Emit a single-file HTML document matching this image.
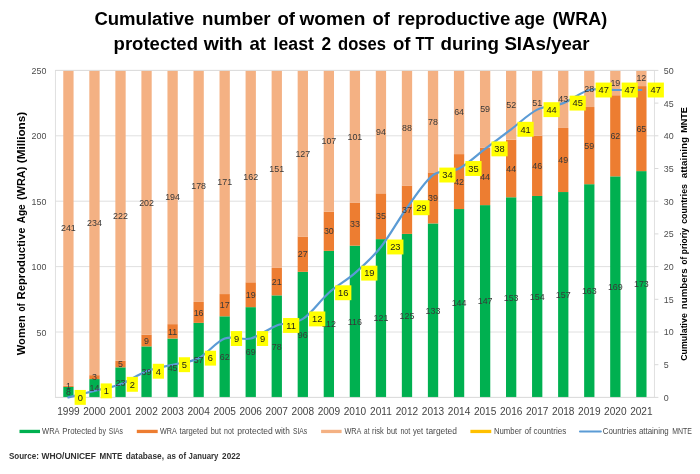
<!DOCTYPE html>
<html><head><meta charset="utf-8"><title>Chart</title><style>html,body{margin:0;padding:0;background:#fff}svg{display:block}</style></head><body>
<svg width="700" height="474" viewBox="0 0 700 474" font-family='"Liberation Sans", sans-serif'>
<rect width="700" height="474" fill="#fff"/>
<line x1="55.4" x2="654.4" y1="397.40" y2="397.40" stroke="#dcdcdc" stroke-width="0.9"/>
<line x1="55.4" x2="654.4" y1="332.00" y2="332.00" stroke="#dcdcdc" stroke-width="0.9"/>
<line x1="55.4" x2="654.4" y1="266.60" y2="266.60" stroke="#dcdcdc" stroke-width="0.9"/>
<line x1="55.4" x2="654.4" y1="201.20" y2="201.20" stroke="#dcdcdc" stroke-width="0.9"/>
<line x1="55.4" x2="654.4" y1="135.80" y2="135.80" stroke="#dcdcdc" stroke-width="0.9"/>
<line x1="55.4" x2="654.4" y1="70.40" y2="70.40" stroke="#dcdcdc" stroke-width="0.9"/>
<rect x="63.27" y="386.94" width="10.3" height="10.46" fill="#00b050"/>
<rect x="63.27" y="385.63" width="10.3" height="1.31" fill="#ed7d31"/>
<rect x="63.27" y="70.40" width="10.3" height="315.23" fill="#f4b183"/>
<rect x="89.32" y="379.09" width="10.3" height="18.31" fill="#00b050"/>
<rect x="89.32" y="375.16" width="10.3" height="3.92" fill="#ed7d31"/>
<rect x="89.32" y="70.40" width="10.3" height="304.76" fill="#f4b183"/>
<rect x="115.36" y="367.32" width="10.3" height="30.08" fill="#00b050"/>
<rect x="115.36" y="360.78" width="10.3" height="6.54" fill="#ed7d31"/>
<rect x="115.36" y="70.40" width="10.3" height="290.38" fill="#f4b183"/>
<rect x="141.40" y="346.39" width="10.3" height="51.01" fill="#00b050"/>
<rect x="141.40" y="334.62" width="10.3" height="11.77" fill="#ed7d31"/>
<rect x="141.40" y="70.40" width="10.3" height="264.22" fill="#f4b183"/>
<rect x="167.45" y="338.54" width="10.3" height="58.86" fill="#00b050"/>
<rect x="167.45" y="324.15" width="10.3" height="14.39" fill="#ed7d31"/>
<rect x="167.45" y="70.40" width="10.3" height="253.75" fill="#f4b183"/>
<rect x="193.49" y="322.84" width="10.3" height="74.56" fill="#00b050"/>
<rect x="193.49" y="301.92" width="10.3" height="20.93" fill="#ed7d31"/>
<rect x="193.49" y="70.40" width="10.3" height="231.52" fill="#f4b183"/>
<rect x="219.53" y="316.30" width="10.3" height="81.10" fill="#00b050"/>
<rect x="219.53" y="294.07" width="10.3" height="22.24" fill="#ed7d31"/>
<rect x="219.53" y="70.40" width="10.3" height="223.67" fill="#f4b183"/>
<rect x="245.58" y="307.15" width="10.3" height="90.25" fill="#00b050"/>
<rect x="245.58" y="282.30" width="10.3" height="24.85" fill="#ed7d31"/>
<rect x="245.58" y="70.40" width="10.3" height="211.90" fill="#f4b183"/>
<rect x="271.62" y="295.38" width="10.3" height="102.02" fill="#00b050"/>
<rect x="271.62" y="267.91" width="10.3" height="27.47" fill="#ed7d31"/>
<rect x="271.62" y="70.40" width="10.3" height="197.51" fill="#f4b183"/>
<rect x="297.66" y="271.83" width="10.3" height="125.57" fill="#00b050"/>
<rect x="297.66" y="236.52" width="10.3" height="35.32" fill="#ed7d31"/>
<rect x="297.66" y="70.40" width="10.3" height="166.12" fill="#f4b183"/>
<rect x="323.71" y="250.90" width="10.3" height="146.50" fill="#00b050"/>
<rect x="323.71" y="211.66" width="10.3" height="39.24" fill="#ed7d31"/>
<rect x="323.71" y="70.40" width="10.3" height="141.26" fill="#f4b183"/>
<rect x="349.75" y="245.67" width="10.3" height="151.73" fill="#00b050"/>
<rect x="349.75" y="202.51" width="10.3" height="43.16" fill="#ed7d31"/>
<rect x="349.75" y="70.40" width="10.3" height="132.11" fill="#f4b183"/>
<rect x="375.79" y="239.13" width="10.3" height="158.27" fill="#00b050"/>
<rect x="375.79" y="193.35" width="10.3" height="45.78" fill="#ed7d31"/>
<rect x="375.79" y="70.40" width="10.3" height="122.95" fill="#f4b183"/>
<rect x="401.84" y="233.90" width="10.3" height="163.50" fill="#00b050"/>
<rect x="401.84" y="185.50" width="10.3" height="48.40" fill="#ed7d31"/>
<rect x="401.84" y="70.40" width="10.3" height="115.10" fill="#f4b183"/>
<rect x="427.88" y="223.44" width="10.3" height="173.96" fill="#00b050"/>
<rect x="427.88" y="172.42" width="10.3" height="51.01" fill="#ed7d31"/>
<rect x="427.88" y="70.40" width="10.3" height="102.02" fill="#f4b183"/>
<rect x="453.92" y="209.05" width="10.3" height="188.35" fill="#00b050"/>
<rect x="453.92" y="154.11" width="10.3" height="54.94" fill="#ed7d31"/>
<rect x="453.92" y="70.40" width="10.3" height="83.71" fill="#f4b183"/>
<rect x="479.97" y="205.12" width="10.3" height="192.28" fill="#00b050"/>
<rect x="479.97" y="147.57" width="10.3" height="57.55" fill="#ed7d31"/>
<rect x="479.97" y="70.40" width="10.3" height="77.17" fill="#f4b183"/>
<rect x="506.01" y="197.28" width="10.3" height="200.12" fill="#00b050"/>
<rect x="506.01" y="139.72" width="10.3" height="57.55" fill="#ed7d31"/>
<rect x="506.01" y="70.40" width="10.3" height="69.32" fill="#f4b183"/>
<rect x="532.05" y="195.97" width="10.3" height="201.43" fill="#00b050"/>
<rect x="532.05" y="135.80" width="10.3" height="60.17" fill="#ed7d31"/>
<rect x="532.05" y="70.40" width="10.3" height="65.40" fill="#f4b183"/>
<rect x="558.10" y="192.04" width="10.3" height="205.36" fill="#00b050"/>
<rect x="558.10" y="127.95" width="10.3" height="64.09" fill="#ed7d31"/>
<rect x="558.10" y="70.40" width="10.3" height="57.55" fill="#f4b183"/>
<rect x="584.14" y="184.20" width="10.3" height="213.20" fill="#00b050"/>
<rect x="584.14" y="107.02" width="10.3" height="77.17" fill="#ed7d31"/>
<rect x="584.14" y="70.40" width="10.3" height="36.62" fill="#f4b183"/>
<rect x="610.18" y="176.35" width="10.3" height="221.05" fill="#00b050"/>
<rect x="610.18" y="95.25" width="10.3" height="81.10" fill="#ed7d31"/>
<rect x="610.18" y="70.40" width="10.3" height="24.85" fill="#f4b183"/>
<rect x="636.23" y="171.12" width="10.3" height="226.28" fill="#00b050"/>
<rect x="636.23" y="86.10" width="10.3" height="85.02" fill="#ed7d31"/>
<rect x="636.23" y="70.40" width="10.3" height="15.70" fill="#f4b183"/>
<rect x="55.4" y="70.4" width="599.0" height="327.0" fill="none" stroke="#dcdcdc" stroke-width="0.9"/>
<line x1="654.4" x2="658.4" y1="397.40" y2="397.40" stroke="#d9d9d9" stroke-width="1"/>
<line x1="654.4" x2="658.4" y1="364.70" y2="364.70" stroke="#d9d9d9" stroke-width="1"/>
<line x1="654.4" x2="658.4" y1="332.00" y2="332.00" stroke="#d9d9d9" stroke-width="1"/>
<line x1="654.4" x2="658.4" y1="299.30" y2="299.30" stroke="#d9d9d9" stroke-width="1"/>
<line x1="654.4" x2="658.4" y1="266.60" y2="266.60" stroke="#d9d9d9" stroke-width="1"/>
<line x1="654.4" x2="658.4" y1="233.90" y2="233.90" stroke="#d9d9d9" stroke-width="1"/>
<line x1="654.4" x2="658.4" y1="201.20" y2="201.20" stroke="#d9d9d9" stroke-width="1"/>
<line x1="654.4" x2="658.4" y1="168.50" y2="168.50" stroke="#d9d9d9" stroke-width="1"/>
<line x1="654.4" x2="658.4" y1="135.80" y2="135.80" stroke="#d9d9d9" stroke-width="1"/>
<line x1="654.4" x2="658.4" y1="103.10" y2="103.10" stroke="#d9d9d9" stroke-width="1"/>
<line x1="654.4" x2="658.4" y1="70.40" y2="70.40" stroke="#d9d9d9" stroke-width="1"/>
<path d="M68.42,397.40 C72.76,396.31 85.78,393.04 94.47,390.86 C103.15,388.68 111.83,387.59 120.51,384.32 C129.19,381.05 137.87,374.51 146.55,371.24 C155.23,367.97 163.91,366.88 172.60,364.70 C181.28,362.52 189.96,362.52 198.64,358.16 C207.32,353.80 216.00,341.81 224.68,338.54 C233.36,335.27 242.04,340.72 250.73,338.54 C259.41,336.36 268.09,328.73 276.77,325.46 C285.45,322.19 294.13,324.37 302.81,318.92 C311.49,313.47 320.18,300.39 328.86,292.76 C337.54,285.13 346.22,280.77 354.90,273.14 C363.58,265.51 372.26,257.88 380.94,246.98 C389.62,236.08 398.31,219.73 406.99,207.74 C415.67,195.75 424.35,181.58 433.03,175.04 C441.71,168.50 450.39,172.86 459.07,168.50 C467.76,164.14 476.44,155.42 485.12,148.88 C493.80,142.34 502.48,135.80 511.16,129.26 C519.84,122.72 528.52,114.00 537.20,109.64 C545.89,105.28 554.57,106.37 563.25,103.10 C571.93,99.83 580.61,92.20 589.29,90.02 C597.97,87.84 606.65,90.02 615.33,90.02 C624.02,90.02 637.04,90.02 641.38,90.02" fill="none" stroke="#5b9bd5" stroke-width="2.2" stroke-linecap="round" stroke-linejoin="round"/>
<text x="68.42" y="395.35" font-size="8.9" text-anchor="middle" fill="#383838">8</text>
<text x="68.42" y="389.47" font-size="8.9" text-anchor="middle" fill="#383838">1</text>
<text x="68.42" y="231.20" font-size="8.9" text-anchor="middle" fill="#383838">241</text>
<text x="94.47" y="391.43" font-size="8.9" text-anchor="middle" fill="#383838">14</text>
<text x="94.47" y="380.31" font-size="8.9" text-anchor="middle" fill="#383838">3</text>
<text x="94.47" y="225.97" font-size="8.9" text-anchor="middle" fill="#383838">234</text>
<text x="120.51" y="385.54" font-size="8.9" text-anchor="middle" fill="#383838">23</text>
<text x="120.51" y="367.23" font-size="8.9" text-anchor="middle" fill="#383838">5</text>
<text x="120.51" y="218.77" font-size="8.9" text-anchor="middle" fill="#383838">222</text>
<text x="146.55" y="375.08" font-size="8.9" text-anchor="middle" fill="#383838">39</text>
<text x="146.55" y="343.69" font-size="8.9" text-anchor="middle" fill="#383838">9</text>
<text x="146.55" y="205.69" font-size="8.9" text-anchor="middle" fill="#383838">202</text>
<text x="172.60" y="371.16" font-size="8.9" text-anchor="middle" fill="#383838">45</text>
<text x="172.60" y="334.53" font-size="8.9" text-anchor="middle" fill="#383838">11</text>
<text x="172.60" y="200.46" font-size="8.9" text-anchor="middle" fill="#383838">194</text>
<text x="198.64" y="363.31" font-size="8.9" text-anchor="middle" fill="#383838">57</text>
<text x="198.64" y="315.57" font-size="8.9" text-anchor="middle" fill="#383838">16</text>
<text x="198.64" y="189.34" font-size="8.9" text-anchor="middle" fill="#383838">178</text>
<text x="224.68" y="360.04" font-size="8.9" text-anchor="middle" fill="#383838">62</text>
<text x="224.68" y="308.37" font-size="8.9" text-anchor="middle" fill="#383838">17</text>
<text x="224.68" y="185.42" font-size="8.9" text-anchor="middle" fill="#383838">171</text>
<text x="250.73" y="355.46" font-size="8.9" text-anchor="middle" fill="#383838">69</text>
<text x="250.73" y="297.91" font-size="8.9" text-anchor="middle" fill="#383838">19</text>
<text x="250.73" y="179.53" font-size="8.9" text-anchor="middle" fill="#383838">162</text>
<text x="276.77" y="349.57" font-size="8.9" text-anchor="middle" fill="#383838">78</text>
<text x="276.77" y="284.83" font-size="8.9" text-anchor="middle" fill="#383838">21</text>
<text x="276.77" y="172.34" font-size="8.9" text-anchor="middle" fill="#383838">151</text>
<text x="302.81" y="337.80" font-size="8.9" text-anchor="middle" fill="#383838">96</text>
<text x="302.81" y="257.36" font-size="8.9" text-anchor="middle" fill="#383838">27</text>
<text x="302.81" y="156.64" font-size="8.9" text-anchor="middle" fill="#383838">127</text>
<text x="328.86" y="327.34" font-size="8.9" text-anchor="middle" fill="#383838">112</text>
<text x="328.86" y="234.47" font-size="8.9" text-anchor="middle" fill="#383838">30</text>
<text x="328.86" y="144.22" font-size="8.9" text-anchor="middle" fill="#383838">107</text>
<text x="354.90" y="324.72" font-size="8.9" text-anchor="middle" fill="#383838">116</text>
<text x="354.90" y="227.28" font-size="8.9" text-anchor="middle" fill="#383838">33</text>
<text x="354.90" y="139.64" font-size="8.9" text-anchor="middle" fill="#383838">101</text>
<text x="380.94" y="321.45" font-size="8.9" text-anchor="middle" fill="#383838">121</text>
<text x="380.94" y="219.43" font-size="8.9" text-anchor="middle" fill="#383838">35</text>
<text x="380.94" y="135.06" font-size="8.9" text-anchor="middle" fill="#383838">94</text>
<text x="406.99" y="318.84" font-size="8.9" text-anchor="middle" fill="#383838">125</text>
<text x="406.99" y="212.89" font-size="8.9" text-anchor="middle" fill="#383838">37</text>
<text x="406.99" y="131.14" font-size="8.9" text-anchor="middle" fill="#383838">88</text>
<text x="433.03" y="313.60" font-size="8.9" text-anchor="middle" fill="#383838">133</text>
<text x="433.03" y="201.12" font-size="8.9" text-anchor="middle" fill="#383838">39</text>
<text x="433.03" y="124.60" font-size="8.9" text-anchor="middle" fill="#383838">78</text>
<text x="459.07" y="306.41" font-size="8.9" text-anchor="middle" fill="#383838">144</text>
<text x="459.07" y="184.77" font-size="8.9" text-anchor="middle" fill="#383838">42</text>
<text x="459.07" y="115.44" font-size="8.9" text-anchor="middle" fill="#383838">64</text>
<text x="485.12" y="304.45" font-size="8.9" text-anchor="middle" fill="#383838">147</text>
<text x="485.12" y="179.53" font-size="8.9" text-anchor="middle" fill="#383838">44</text>
<text x="485.12" y="112.17" font-size="8.9" text-anchor="middle" fill="#383838">59</text>
<text x="511.16" y="300.52" font-size="8.9" text-anchor="middle" fill="#383838">153</text>
<text x="511.16" y="171.69" font-size="8.9" text-anchor="middle" fill="#383838">44</text>
<text x="511.16" y="108.25" font-size="8.9" text-anchor="middle" fill="#383838">52</text>
<text x="537.20" y="299.87" font-size="8.9" text-anchor="middle" fill="#383838">154</text>
<text x="537.20" y="169.07" font-size="8.9" text-anchor="middle" fill="#383838">46</text>
<text x="537.20" y="106.29" font-size="8.9" text-anchor="middle" fill="#383838">51</text>
<text x="563.25" y="297.91" font-size="8.9" text-anchor="middle" fill="#383838">157</text>
<text x="563.25" y="163.18" font-size="8.9" text-anchor="middle" fill="#383838">49</text>
<text x="563.25" y="102.36" font-size="8.9" text-anchor="middle" fill="#383838">43</text>
<text x="589.29" y="293.98" font-size="8.9" text-anchor="middle" fill="#383838">163</text>
<text x="589.29" y="148.80" font-size="8.9" text-anchor="middle" fill="#383838">59</text>
<text x="589.29" y="91.90" font-size="8.9" text-anchor="middle" fill="#383838">28</text>
<text x="615.33" y="290.06" font-size="8.9" text-anchor="middle" fill="#383838">169</text>
<text x="615.33" y="138.99" font-size="8.9" text-anchor="middle" fill="#383838">62</text>
<text x="615.33" y="86.01" font-size="8.9" text-anchor="middle" fill="#383838">19</text>
<text x="641.38" y="287.44" font-size="8.9" text-anchor="middle" fill="#383838">173</text>
<text x="641.38" y="131.79" font-size="8.9" text-anchor="middle" fill="#383838">65</text>
<text x="641.38" y="81.43" font-size="8.9" text-anchor="middle" fill="#383838">12</text>
<rect x="74.62" y="389.95" width="11.2" height="14.9" fill="#ffff00"/>
<text x="80.22" y="400.73" font-size="9.3" text-anchor="middle" fill="#1a1a1a">0</text>
<rect x="100.67" y="383.41" width="11.2" height="14.9" fill="#ffff00"/>
<text x="106.27" y="394.19" font-size="9.3" text-anchor="middle" fill="#1a1a1a">1</text>
<rect x="126.71" y="376.87" width="11.2" height="14.9" fill="#ffff00"/>
<text x="132.31" y="387.65" font-size="9.3" text-anchor="middle" fill="#1a1a1a">2</text>
<rect x="152.75" y="363.79" width="11.2" height="14.9" fill="#ffff00"/>
<text x="158.35" y="374.57" font-size="9.3" text-anchor="middle" fill="#1a1a1a">4</text>
<rect x="178.80" y="357.25" width="11.2" height="14.9" fill="#ffff00"/>
<text x="184.40" y="368.03" font-size="9.3" text-anchor="middle" fill="#1a1a1a">5</text>
<rect x="204.84" y="350.71" width="11.2" height="14.9" fill="#ffff00"/>
<text x="210.44" y="361.49" font-size="9.3" text-anchor="middle" fill="#1a1a1a">6</text>
<rect x="230.88" y="331.09" width="11.2" height="14.9" fill="#ffff00"/>
<text x="236.48" y="341.87" font-size="9.3" text-anchor="middle" fill="#1a1a1a">9</text>
<rect x="256.93" y="331.09" width="11.2" height="14.9" fill="#ffff00"/>
<text x="262.53" y="341.87" font-size="9.3" text-anchor="middle" fill="#1a1a1a">9</text>
<rect x="283.07" y="318.01" width="16.2" height="14.9" fill="#ffff00"/>
<text x="291.17" y="328.79" font-size="9.3" text-anchor="middle" fill="#1a1a1a">11</text>
<rect x="309.11" y="311.47" width="16.2" height="14.9" fill="#ffff00"/>
<text x="317.21" y="322.25" font-size="9.3" text-anchor="middle" fill="#1a1a1a">12</text>
<rect x="335.16" y="285.31" width="16.2" height="14.9" fill="#ffff00"/>
<text x="343.26" y="296.09" font-size="9.3" text-anchor="middle" fill="#1a1a1a">16</text>
<rect x="361.20" y="265.69" width="16.2" height="14.9" fill="#ffff00"/>
<text x="369.30" y="276.47" font-size="9.3" text-anchor="middle" fill="#1a1a1a">19</text>
<rect x="387.24" y="239.53" width="16.2" height="14.9" fill="#ffff00"/>
<text x="395.34" y="250.31" font-size="9.3" text-anchor="middle" fill="#1a1a1a">23</text>
<rect x="413.29" y="200.29" width="16.2" height="14.9" fill="#ffff00"/>
<text x="421.39" y="211.07" font-size="9.3" text-anchor="middle" fill="#1a1a1a">29</text>
<rect x="439.33" y="167.59" width="16.2" height="14.9" fill="#ffff00"/>
<text x="447.43" y="178.37" font-size="9.3" text-anchor="middle" fill="#1a1a1a">34</text>
<rect x="465.37" y="161.05" width="16.2" height="14.9" fill="#ffff00"/>
<text x="473.47" y="171.83" font-size="9.3" text-anchor="middle" fill="#1a1a1a">35</text>
<rect x="491.42" y="141.43" width="16.2" height="14.9" fill="#ffff00"/>
<text x="499.52" y="152.21" font-size="9.3" text-anchor="middle" fill="#1a1a1a">38</text>
<rect x="517.46" y="121.81" width="16.2" height="14.9" fill="#ffff00"/>
<text x="525.56" y="132.59" font-size="9.3" text-anchor="middle" fill="#1a1a1a">41</text>
<rect x="543.50" y="102.19" width="16.2" height="14.9" fill="#ffff00"/>
<text x="551.60" y="112.97" font-size="9.3" text-anchor="middle" fill="#1a1a1a">44</text>
<rect x="569.55" y="95.65" width="16.2" height="14.9" fill="#ffff00"/>
<text x="577.65" y="106.43" font-size="9.3" text-anchor="middle" fill="#1a1a1a">45</text>
<rect x="595.59" y="82.57" width="16.2" height="14.9" fill="#ffff00"/>
<text x="603.69" y="93.35" font-size="9.3" text-anchor="middle" fill="#1a1a1a">47</text>
<rect x="621.63" y="82.57" width="16.2" height="14.9" fill="#ffff00"/>
<text x="629.73" y="93.35" font-size="9.3" text-anchor="middle" fill="#1a1a1a">47</text>
<rect x="647.68" y="82.57" width="16.2" height="14.9" fill="#ffff00"/>
<text x="655.78" y="93.35" font-size="9.3" text-anchor="middle" fill="#1a1a1a">47</text>
<text x="46.4" y="335.59" font-size="8.9" text-anchor="end" fill="#4d4d4d">50</text>
<text x="46.4" y="270.19" font-size="8.9" text-anchor="end" fill="#4d4d4d">100</text>
<text x="46.4" y="204.79" font-size="8.9" text-anchor="end" fill="#4d4d4d">150</text>
<text x="46.4" y="139.39" font-size="8.9" text-anchor="end" fill="#4d4d4d">200</text>
<text x="46.4" y="73.99" font-size="8.9" text-anchor="end" fill="#4d4d4d">250</text>
<text x="663.8" y="400.89" font-size="8.9" text-anchor="start" fill="#4d4d4d">0</text>
<text x="663.8" y="368.19" font-size="8.9" text-anchor="start" fill="#4d4d4d">5</text>
<text x="663.8" y="335.49" font-size="8.9" text-anchor="start" fill="#4d4d4d">10</text>
<text x="663.8" y="302.79" font-size="8.9" text-anchor="start" fill="#4d4d4d">15</text>
<text x="663.8" y="270.09" font-size="8.9" text-anchor="start" fill="#4d4d4d">20</text>
<text x="663.8" y="237.39" font-size="8.9" text-anchor="start" fill="#4d4d4d">25</text>
<text x="663.8" y="204.69" font-size="8.9" text-anchor="start" fill="#4d4d4d">30</text>
<text x="663.8" y="171.99" font-size="8.9" text-anchor="start" fill="#4d4d4d">35</text>
<text x="663.8" y="139.29" font-size="8.9" text-anchor="start" fill="#4d4d4d">40</text>
<text x="663.8" y="106.59" font-size="8.9" text-anchor="start" fill="#4d4d4d">45</text>
<text x="663.8" y="73.89" font-size="8.9" text-anchor="start" fill="#4d4d4d">50</text>
<text x="68.42" y="415.18" font-size="10.1" text-anchor="middle" fill="#444">1999</text>
<text x="94.47" y="415.18" font-size="10.1" text-anchor="middle" fill="#444">2000</text>
<text x="120.51" y="415.18" font-size="10.1" text-anchor="middle" fill="#444">2001</text>
<text x="146.55" y="415.18" font-size="10.1" text-anchor="middle" fill="#444">2002</text>
<text x="172.60" y="415.18" font-size="10.1" text-anchor="middle" fill="#444">2003</text>
<text x="198.64" y="415.18" font-size="10.1" text-anchor="middle" fill="#444">2004</text>
<text x="224.68" y="415.18" font-size="10.1" text-anchor="middle" fill="#444">2005</text>
<text x="250.73" y="415.18" font-size="10.1" text-anchor="middle" fill="#444">2006</text>
<text x="276.77" y="415.18" font-size="10.1" text-anchor="middle" fill="#444">2007</text>
<text x="302.81" y="415.18" font-size="10.1" text-anchor="middle" fill="#444">2008</text>
<text x="328.86" y="415.18" font-size="10.1" text-anchor="middle" fill="#444">2009</text>
<text x="354.90" y="415.18" font-size="10.1" text-anchor="middle" fill="#444">2010</text>
<text x="380.94" y="415.18" font-size="10.1" text-anchor="middle" fill="#444">2011</text>
<text x="406.99" y="415.18" font-size="10.1" text-anchor="middle" fill="#444">2012</text>
<text x="433.03" y="415.18" font-size="10.1" text-anchor="middle" fill="#444">2013</text>
<text x="459.07" y="415.18" font-size="10.1" text-anchor="middle" fill="#444">2014</text>
<text x="485.12" y="415.18" font-size="10.1" text-anchor="middle" fill="#444">2015</text>
<text x="511.16" y="415.18" font-size="10.1" text-anchor="middle" fill="#444">2016</text>
<text x="537.20" y="415.18" font-size="10.1" text-anchor="middle" fill="#444">2017</text>
<text x="563.25" y="415.18" font-size="10.1" text-anchor="middle" fill="#444">2018</text>
<text x="589.29" y="415.18" font-size="10.1" text-anchor="middle" fill="#444">2019</text>
<text x="615.33" y="415.18" font-size="10.1" text-anchor="middle" fill="#444">2020</text>
<text x="641.38" y="415.18" font-size="10.1" text-anchor="middle" fill="#444">2021</text>
<text transform="translate(94.40,24.80) scale(1.0365,1)" font-size="17.9" font-weight="bold" fill="#000">Cumulative</text>
<text transform="translate(202.00,24.80) scale(1.0457,1)" font-size="17.9" font-weight="bold" fill="#000">number</text>
<text transform="translate(277.40,24.80) scale(1.0405,1)" font-size="17.9" font-weight="bold" fill="#000">of</text>
<text transform="translate(299.50,24.80) scale(1.0687,1)" font-size="17.9" font-weight="bold" fill="#000">women</text>
<text transform="translate(372.60,24.80) scale(1.0286,1)" font-size="17.9" font-weight="bold" fill="#000">of</text>
<text transform="translate(397.40,24.80) scale(1.0426,1)" font-size="17.9" font-weight="bold" fill="#000">reproductive</text>
<text transform="translate(514.40,24.80) scale(0.9910,1)" font-size="17.9" font-weight="bold" fill="#000">age</text>
<text transform="translate(552.40,24.80) scale(1.0021,1)" font-size="17.9" font-weight="bold" fill="#000">(WRA)</text>
<text transform="translate(113.60,50.40) scale(1.0351,1)" font-size="17.9" font-weight="bold" fill="#000">protected</text>
<text transform="translate(203.70,50.40) scale(1.0867,1)" font-size="17.9" font-weight="bold" fill="#000">with</text>
<text transform="translate(249.40,50.40) scale(1.0420,1)" font-size="17.9" font-weight="bold" fill="#000">at</text>
<text transform="translate(273.60,50.40) scale(0.9899,1)" font-size="17.9" font-weight="bold" fill="#000">least</text>
<text transform="translate(321.40,50.40) scale(0.9663,1)" font-size="17.9" font-weight="bold" fill="#000">2</text>
<text transform="translate(338.00,50.40) scale(0.9279,1)" font-size="17.9" font-weight="bold" fill="#000">doses</text>
<text transform="translate(393.00,50.40) scale(1.0405,1)" font-size="17.9" font-weight="bold" fill="#000">of</text>
<text transform="translate(415.40,50.40) scale(0.8517,1)" font-size="17.9" font-weight="bold" fill="#000">TT</text>
<text transform="translate(440.60,50.40) scale(1.0491,1)" font-size="17.9" font-weight="bold" fill="#000">during</text>
<text transform="translate(504.40,50.40) scale(1.0438,1)" font-size="17.9" font-weight="bold" fill="#000">SIAs/year</text>
<text transform="translate(25.30,355.20) rotate(-90) scale(1.0829,1)" font-size="10.3" font-weight="bold" fill="#000">Women</text>
<text transform="translate(25.30,311.50) rotate(-90) scale(0.8219,1)" font-size="10.3" font-weight="bold" fill="#000">of</text>
<text transform="translate(25.30,299.50) rotate(-90) scale(1.0939,1)" font-size="10.3" font-weight="bold" fill="#000">Reproductive</text>
<text transform="translate(25.30,223.30) rotate(-90) scale(0.9760,1)" font-size="10.3" font-weight="bold" fill="#000">Age</text>
<text transform="translate(25.30,199.90) rotate(-90) scale(1.0583,1)" font-size="10.3" font-weight="bold" fill="#000">(WRA)</text>
<text transform="translate(25.30,163.20) rotate(-90) scale(1.1378,1)" font-size="10.3" font-weight="bold" fill="#000">(Millions)</text>
<text transform="translate(686.60,360.80) rotate(-90) scale(1.0433,1)" font-size="8.5" font-weight="bold" fill="#000">Cumulative</text>
<text transform="translate(686.60,309.20) rotate(-90) scale(1.1417,1)" font-size="8.5" font-weight="bold" fill="#000">numbers</text>
<text transform="translate(686.60,264.40) rotate(-90) scale(0.9462,1)" font-size="8.5" font-weight="bold" fill="#000">of</text>
<text transform="translate(686.60,254.20) rotate(-90) scale(0.9911,1)" font-size="8.5" font-weight="bold" fill="#000">prioriy</text>
<text transform="translate(686.60,223.80) rotate(-90) scale(1.0431,1)" font-size="8.5" font-weight="bold" fill="#000">countries</text>
<text transform="translate(686.60,178.20) rotate(-90) scale(1.1638,1)" font-size="8.5" font-weight="bold" fill="#000">attaining</text>
<text transform="translate(686.60,132.70) rotate(-90) scale(1.0582,1)" font-size="8.5" font-weight="bold" fill="#000">MNTE</text>
<rect x="19.5" y="429.8" width="20.50" height="3.3" fill="#00b050"/>
<text transform="translate(42.10,433.90) scale(0.9140,1)" font-size="8.2" fill="#484848">WRA</text>
<text transform="translate(62.30,433.90) scale(0.9673,1)" font-size="8.2" fill="#484848">Protected</text>
<text transform="translate(98.60,433.90) scale(0.8554,1)" font-size="8.2" fill="#484848">by</text>
<text transform="translate(108.75,433.90) scale(0.8236,1)" font-size="8.2" fill="#484848">SIAs</text>
<rect x="136.8" y="429.8" width="20.90" height="3.3" fill="#ed7d31"/>
<text transform="translate(160.00,433.90) scale(0.8774,1)" font-size="8.2" fill="#484848">WRA</text>
<text transform="translate(179.60,433.90) scale(0.9337,1)" font-size="8.2" fill="#484848">targeted</text>
<text transform="translate(210.70,433.90) scale(0.9037,1)" font-size="8.2" fill="#484848">but</text>
<text transform="translate(224.10,433.90) scale(0.8598,1)" font-size="8.2" fill="#484848">not</text>
<text transform="translate(237.20,433.90) scale(1.0440,1)" font-size="8.2" fill="#484848">protected</text>
<text transform="translate(275.04,433.90) scale(1.0111,1)" font-size="8.2" fill="#484848">with</text>
<text transform="translate(292.90,433.90) scale(0.8207,1)" font-size="8.2" fill="#484848">SIAs</text>
<rect x="321.1" y="429.8" width="20.50" height="3.3" fill="#f4b183"/>
<text transform="translate(344.40,433.90) scale(0.8879,1)" font-size="8.2" fill="#484848">WRA</text>
<text transform="translate(364.10,433.90) scale(0.7887,1)" font-size="8.2" fill="#484848">at</text>
<text transform="translate(372.10,433.90) scale(0.9107,1)" font-size="8.2" fill="#484848">risk</text>
<text transform="translate(386.80,433.90) scale(0.9037,1)" font-size="8.2" fill="#484848">but</text>
<text transform="translate(400.40,433.90) scale(0.8598,1)" font-size="8.2" fill="#484848">not</text>
<text transform="translate(412.90,433.90) scale(0.9226,1)" font-size="8.2" fill="#484848">yet</text>
<text transform="translate(426.10,433.90) scale(1.0268,1)" font-size="8.2" fill="#484848">targeted</text>
<rect x="470.4" y="429.8" width="20.85" height="3.3" fill="#ffc000"/>
<text transform="translate(493.90,433.90) scale(0.9502,1)" font-size="8.2" fill="#484848">Number</text>
<text transform="translate(524.60,433.90) scale(0.9931,1)" font-size="8.2" fill="#484848">of</text>
<text transform="translate(533.60,433.90) scale(0.9807,1)" font-size="8.2" fill="#484848">countries</text>
<line x1="580" x2="600.8" y1="431.5" y2="431.5" stroke="#5b9bd5" stroke-width="2.1" stroke-linecap="round"/>
<text transform="translate(602.70,433.90) scale(0.9659,1)" font-size="8.2" fill="#484848">Countries</text>
<text transform="translate(638.90,433.90) scale(0.9630,1)" font-size="8.2" fill="#484848">attaining</text>
<text transform="translate(672.30,433.90) scale(0.8474,1)" font-size="8.2" fill="#484848">MNTE</text>
<text transform="translate(8.90,458.90) scale(0.8754,1)" font-size="9.2" font-weight="bold" fill="#303030">Source:</text>
<text transform="translate(41.40,458.90) scale(0.9208,1)" font-size="9.2" font-weight="bold" fill="#303030">WHO/UNICEF</text>
<text transform="translate(99.60,458.90) scale(0.8742,1)" font-size="9.2" font-weight="bold" fill="#303030">MNTE</text>
<text transform="translate(125.70,458.90) scale(0.9021,1)" font-size="9.2" font-weight="bold" fill="#303030">database,</text>
<text transform="translate(167.10,458.90) scale(0.8715,1)" font-size="9.2" font-weight="bold" fill="#303030">as</text>
<text transform="translate(178.60,458.90) scale(0.8512,1)" font-size="9.2" font-weight="bold" fill="#303030">of</text>
<text transform="translate(188.60,458.90) scale(0.8418,1)" font-size="9.2" font-weight="bold" fill="#303030">January</text>
<text transform="translate(222.10,458.90) scale(0.8891,1)" font-size="9.2" font-weight="bold" fill="#303030">2022</text>
</svg>
</body></html>
